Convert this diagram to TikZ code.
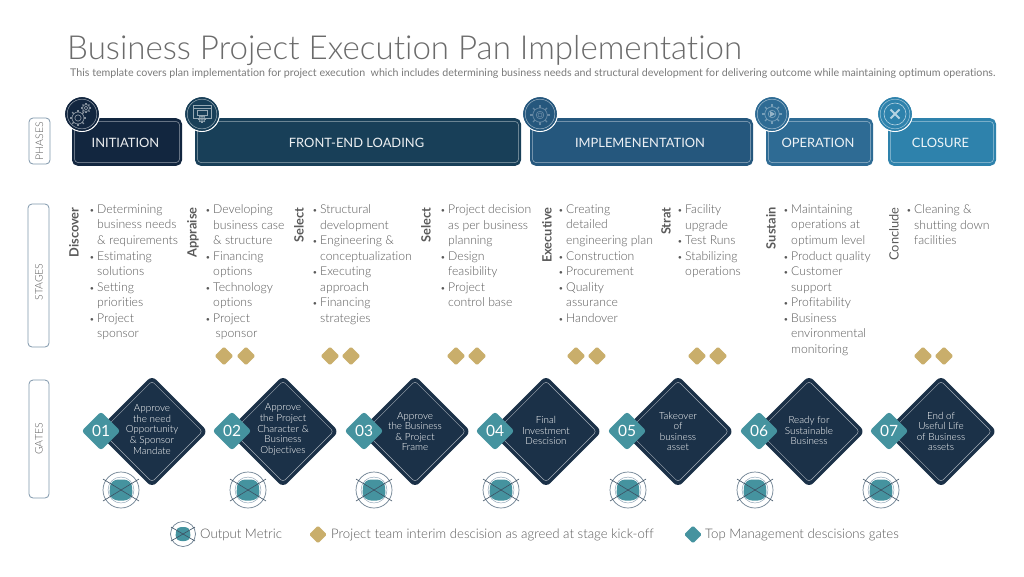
\documentclass[tikz,border=0pt]{standalone}
\usepackage{fontspec}
\setmainfont[RawFeature=-liga]{Lato}
\newfontfamily\lightf[RawFeature=-liga]{Lato Light}
\usetikzlibrary{shapes.geometric}
\definecolor{cA}{HTML}{12263F}
\definecolor{cB}{HTML}{183F58}
\definecolor{cC}{HTML}{25577D}
\definecolor{cD}{HTML}{2E6B94}
\definecolor{cE}{HTML}{2E82AC}
\definecolor{gateblue}{HTML}{1B3148}
\definecolor{teal}{HTML}{45939F}
\definecolor{gold}{HTML}{C9AE6B}
\definecolor{txt}{HTML}{5A5A5A}
\definecolor{sideline}{HTML}{7F97AB}
\tikzset{
  x=1pt,y=-1pt,
  phasebox/.style={rounded corners=5pt,draw=#1,line width=1.6pt,fill=#1,minimum height=46pt,inner sep=0pt},
  phaseinner/.style={rounded corners=3.5pt,draw=white!55!#1,line width=.5pt},
  phasecirc/.style={circle,fill=#1,draw=#1,line width=1pt,minimum size=33pt,inner sep=0pt},
  sidebox/.style={rounded corners=4pt,draw=sideline,line width=.8pt,fill=white,inner sep=0pt},
  sidetext/.style={rotate=90,text=txt,font=\lightf\fontsize{10.5}{12}\selectfont},
  stagehead/.style={rotate=90,anchor=east,text=#1,font=\fontsize{12.8}{15}\selectfont\bfseries},
  stagelist/.style={anchor=north west,align=left,inner sep=0pt,text=txt,font=\lightf\fontsize{12.2}{15.55}\selectfont},
  golddia/.style={diamond,aspect=1,fill=gold,minimum size=19pt,inner sep=0pt,rounded corners=1.5pt},
  gatedia/.style={diamond,aspect=1,fill=gateblue,minimum size=112pt,inner sep=0pt,rounded corners=6pt},
  gateinner/.style={diamond,aspect=1,draw=white!60!gateblue,line width=.5pt,minimum size=101pt,inner sep=0pt,rounded corners=3pt},
  numdia/.style={diamond,aspect=1,fill=teal,minimum size=39pt,inner sep=0pt,rounded corners=3pt,text=white,font=\fontsize{15.5}{18}\selectfont},
  gatetext/.style={align=center,text=white,inner sep=0pt,font=\lightf\fontsize{9.9}{10.6}\selectfont},
  legendtext/.style={anchor=west,inner sep=0pt,text=txt,font=\lightf\fontsize{13.2}{15}\selectfont},
}
\newcommand{\Bu}{\llap{\fontsize{9}{9}\selectfont •\hspace{2.6pt}}}
\newcommand{\Phasebox}[6]{% name,x1,x2,colour,circle x,text
  \node[phasebox=#4,minimum width={#3-#2-1.6pt}] (#1) at ({(#2+#3)/2},142) {};
  \draw[phaseinner=#4] (#2+2.5,121.5) rectangle (#3-2.5,162.5);
  \node[text=white!92!#4,inner sep=0pt,font=\fontsize{12.9}{15}\selectfont] (#1t) at ({(#2+#3)/2-1.5},142.5) {#6};
  \node[phasecirc=#4] (#1c) at (#5,114) {};
  \draw[white,line width=1.2pt] (#5,114) circle (17.4);
  \draw[#4,line width=1pt] (#5,114) circle (16.3);
  \draw[white!55!#4,line width=.5pt] (#5,114) circle (14.8);
}
\newcommand{\Gear}[4]{% x,y,r,col
  \draw[#4,line width=.7pt] (#1,#2) circle (#3*.42);
  \draw[#4,line width=.7pt] (#1,#2) circle (#3*.8);
  \foreach \a in {0,45,...,315}{\draw[#4,line width=1.2pt] (#1,#2) ++(\a:#3*.8) -- ++(\a:#3*.3);}
}
\newcommand{\Metric}[3]{% name,x,y
  \node[circle,draw=sideline!85!black,line width=.7pt,minimum size=36pt,inner sep=0pt] (#1) at (#2,#3) {};
  \draw[sideline,line width=.4pt] (#2,#3) circle (13);
  \fill[teal,rounded corners=3pt] (#2-11,#3-6) -- (#2-6,#3-10.5) -- (#2+6,#3-10.5) -- (#2+11,#3-6) -- (#2+11.5,#3+6) -- (#2+6,#3+10.5) -- (#2-6,#3+10.5) -- (#2-11.5,#3+6) -- cycle;
  \draw[gateblue!85,line width=.6pt] (#2-18,#3-11) -- (#2+18,#3+11);
  \draw[gateblue!85,line width=.6pt] (#2-18,#3+11) -- (#2+18,#3-11);
}
\newcommand{\Gate}[6]{% n,xbig,xsmall,text,label,text y
  \node[gatedia] (g#1) at (#2,431.5) {};
  \node[gateinner] (gi#1) at (#2,431.5) {};
  \node[gatetext] (gt#1) at (#2,#6) {#4};
  \node[numdia] (n#1) at (#3,431) {#5};
}
\begin{document}
\begin{tikzpicture}
\useasboundingbox[fill=white] (0,0) rectangle (1024,576);
% title
\node[anchor=base west,inner sep=0pt,text=txt!90!white,font=\lightf\fontsize{33.1}{40}\selectfont] (title) at (67,59) {Business Project Execution Pan Implementation};
\node[anchor=base west,inner sep=0pt,text=txt!80!white,font=\fontsize{10.66}{13}\selectfont] (sub) at (70,76) {This template covers plan implementation for project execution\ \ which includes determining business needs and structural development for delivering outcome while maintaining optimum operations.};
% side boxes
\node[sidebox,minimum width=21pt,minimum height=46pt] (sp) at (39.5,141) {};
\node[sidetext] (spt) at (sp) {PHASES};
\node[sidebox,minimum width=21pt,minimum height=143pt] (ss) at (38.5,275.5) {};
\node[sidetext] (sst) at (39,282) {STAGES};
\node[sidebox,minimum width=20pt,minimum height=118pt] (sg) at (39,439) {};
\node[sidetext] (sgt) at (sg) {GATES};
% phases
\Phasebox{p1}{72}{182}{cA}{82}{INITIATION}
\Phasebox{p2}{195}{521}{cB}{202}{FRONT-END LOADING}
\Phasebox{p3}{530}{753}{cC}{540}{IMPLEMENENTATION}
\Phasebox{p4}{766}{873}{cD}{772}{OPERATION}
\Phasebox{p5}{888}{996}{cE}{895}{CLOSURE}
% icons
\Gear{78}{118}{7.5}{white!50!cA}
\Gear{86}{108}{4.5}{white!50!cA}
\draw[white!55!cB,line width=.7pt] (193,105) rectangle (211,118);
\draw[white!55!cB,line width=.7pt] (193,108) -- (211,108);
\draw[white!55!cB,line width=.7pt] (197,110) rectangle (207,115);
\Gear{202}{119}{3.5}{white!55!cB}
\Gear{540}{115}{9}{white!30!cC}
\draw[white!30!cC,line width=.6pt] (540,115) circle (2);
\Gear{772}{114}{9}{white!35!cD}
\draw[fill=white!50!cD,draw=none] (770,111) -- (775,114) -- (770,117) -- cycle;
\draw[white!65!cE,line width=.6pt] (895,114) circle (11);
\draw[white!65!cE,line width=2pt] (890.5,109.5) -- (899.5,118.5) (890.5,118.5) -- (899.5,109.5);
% stages
\node[stagehead=txt] (h1) at (74,204) {Discover};
\node[stagelist] (l1) at (97,204.5) {\Bu Determining\\business needs\\\& requirements\\\Bu Estimating\\solutions\\\Bu Setting\\priorities\\\Bu Project\\sponsor};
\node[stagehead=txt] (h2) at (193,204) {Appraise};
\node[stagelist] (l2) at (213,204.5) {\Bu Developing\\business case\\\& structure\\\Bu Financing\\options\\\Bu Technology\\options\\\Bu Project\\\hspace*{2.5pt}sponsor};
\node[stagehead=txt] (h3) at (299,204) {Select};
\node[stagelist] (l3) at (320,204.5) {\Bu Structural\\development\\\Bu Engineering \&\\conceptualization\\\Bu Executing\\approach\\\Bu Financing\\strategies};
\node[stagehead=txt] (h4) at (426,204) {Select};
\node[stagelist] (l4) at (448,204.5) {\Bu Project decision\\as per business\\planning\\\Bu Design\\feasibility\\\Bu Project\\control base};
\node[stagehead=txt] (h5) at (547,204) {Executive};
\node[stagelist] (l5) at (566,204.5) {\Bu Creating\\detailed\\engineering plan\\\Bu Construction\\\Bu Procurement\\\Bu Quality\\assurance\\\Bu Handover};
\node[stagehead=txt] (h6) at (666,204) {Strat};
\node[stagelist] (l6) at (685,204.5) {\Bu Facility\\upgrade\\\Bu Test Runs\\\Bu Stabilizing\\operations};
\node[stagehead=txt] (h7) at (771,204) {Sustain};
\node[stagelist] (l7) at (791,204.5) {\Bu Maintaining\\operations at\\optimum level\\\Bu Product quality\\\Bu Customer\\support\\\Bu Profitability\\\Bu Business\\environmental\\monitoring};
\node[rotate=90,anchor=east,text=txt,font=\fontsize{12.8}{15}\selectfont] (h8) at (894,204) {Conclude};
\node[stagelist] (l8) at (914,204.5) {\Bu Cleaning \&\\shutting down\\facilities};
% gold diamonds
\foreach \x [count=\i] in {224,246,330,351,456,477,576,597,697,718,923,944}
  \node[golddia] (d\i) at (\x,356) {};
% gates
\Gate{1}{152}{101}{Approve\\the need\\Opportunity\\\& Sponsor\\Mandate}{01}{429.5}
\Gate{2}{283}{232}{Approve\\the Project\\Character \&\\Business\\Objectives}{02}{429.5}
\Gate{3}{415}{364}{Approve\\the Business\\\& Project\\Frame}{03}{431.5}
\Gate{4}{546}{495}{Final\\Investment\\Descision}{04}{430.5}
\Gate{5}{678}{627}{Takeover\\of\\business\\asset}{05}{431.5}
\Gate{6}{809}{759}{Ready for\\Sustainable\\Business}{06}{430.5}
\Gate{7}{941}{889}{End of\\Useful Life\\of Business\\assets}{07}{431.5}
% metrics
\foreach \x [count=\i] in {121,248,374,501,628,755,881}
  \Metric{m\i}{\x}{490};
% legend
\node[circle,draw=sideline!85!black,line width=.7pt,minimum size=25pt,inner sep=0pt] (lm) at (183,534) {};
\fill[teal,rounded corners=2.5pt] (176,530) -- (179,527) -- (187,527) -- (190,530) -- (190.5,538) -- (187,541) -- (179,541) -- (175.5,538) -- cycle;
\draw[gateblue!85,line width=.6pt] (171,527) -- (195,541) (171,541) -- (195,527);
\node[legendtext] (t1) at (200,534.5) {Output Metric};
\node[golddia,minimum size=18pt] (lg) at (318,534.5) {};
\node[legendtext] (t2) at (331,534.5) {Project team interim descision as agreed at stage kick-off};
\node[diamond,aspect=1,fill=teal,minimum size=18pt,inner sep=0pt,rounded corners=1.5pt] (lt) at (693,534.5) {};
\node[legendtext] (t3) at (705,534.5) {Top Management descisions gates};
\end{tikzpicture}
\end{document}
